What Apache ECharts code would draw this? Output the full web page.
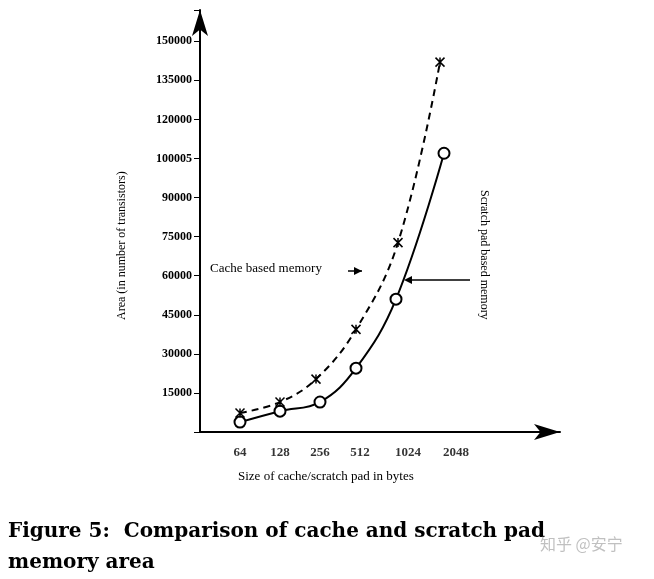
<!DOCTYPE html>
<html><head><meta charset="utf-8">
<script src="https://cdn.jsdelivr.net/npm/echarts@6/dist/echarts.min.js"></script>
<style>html,body{margin:0;background:#fff}#c{width:654px;height:579px}</style>
</head><body><div id="c"></div>
<script>
const categories = ['64', '128', '256', '512', '1024', '2048'];
const scratchX = [0, 1, 2, 2.9, 3.9, 5.1];
const scratchY = [3800, 8000, 11500, 24500, 51000, 107000];
const cacheX = [0, 1, 1.9, 2.9, 3.95, 5];
const cacheY = [7300, 11500, 20300, 39400, 72700, 142000];
const labelX = [0, 1, 2, 3, 4.2, 5.4];

const serif = 'Liberation Serif';
const chart = echarts.init(document.getElementById('c'));
const pair = (xs, ys) => xs.map((x, i) => [x, ys[i]]);
const cross = 'path://M0,0L10,10M10,0L0,10M5,0L5,10';

chart.setOption({
  animation: false,
  grid: { left: 200, right: 94, top: 10, bottom: 147 },
  xAxis: {
    type: 'value', min: -1, max: 8, interval: 1,
    axisLine: { lineStyle: { color: '#000', width: 2 }, symbol: ['none', 'arrow'], symbolSize: [12, 26] },
    axisTick: { show: false }, splitLine: { show: false },
    axisLabel: { show: false }
  },
  yAxis: {
    type: 'value', min: 0, max: 162000, interval: 15000,
    axisLine: { show: true, onZero: false, lineStyle: { color: '#000', width: 2 }, symbol: ['none', 'arrow'], symbolSize: [12, 26] },
    axisTick: { show: true, length: 6, lineStyle: { color: '#000' } },
    splitLine: { show: false },
    axisLabel: {
      color: '#000', fontFamily: serif, fontSize: 12, fontWeight: 'bold',
      formatter: v => (v === 0 || v > 150000) ? '' : (v === 105000 ? '100005' : String(v))
    }
  },
  series: [
    {
      type: 'line', smooth: 0.4, data: pair(scratchX, scratchY),
      lineStyle: { color: '#000', width: 2 },
      symbol: 'emptyCircle', symbolSize: 11,
      itemStyle: { color: '#000', borderColor: '#000', borderWidth: 2 }
    },
    {
      type: 'line', smooth: 0.4, data: pair(cacheX, cacheY),
      lineStyle: { color: '#000', width: 2, type: [7, 5] },
      symbol: cross, symbolSize: 9,
      itemStyle: { color: 'none', borderColor: '#000', borderWidth: 1.5 }
    },
    {
      type: 'scatter', data: labelX.map(x => [x, 0]), symbolSize: 0,
      label: { show: true, position: 'bottom', distance: 14, color: '#000', fontFamily: serif, fontSize: 13, fontWeight: 'bold',
        formatter: p => categories[p.dataIndex] }
    }
  ],
  graphic: [
    { type: 'text', left: 238, top: 470, style: { text: 'Size of cache/scratch pad in bytes', font: '13px "Liberation Serif"', fill: '#000' } },
    { type: 'text', x: 116, y: 320, rotation: Math.PI / 2, style: { text: 'Area (in number of transistors)', font: '12px "Liberation Serif"', fill: '#000' } },
    { type: 'text', left: 210, top: 262, style: { text: 'Cache based memory', font: '13px "Liberation Serif"', fill: '#000' } },
    { type: 'line', shape: { x1: 348, y1: 271, x2: 362, y2: 271 }, style: { stroke: '#000', lineWidth: 1.5 } },
    { type: 'polygon', shape: { points: [[354, 267], [362, 271], [354, 275]] }, style: { fill: '#000' } },
    { type: 'line', shape: { x1: 470, y1: 280, x2: 410, y2: 280 }, style: { stroke: '#000', lineWidth: 1.5 } },
    { type: 'polygon', shape: { points: [[412, 276], [404, 280], [412, 284]] }, style: { fill: '#000' } },
    { type: 'text', x: 490, y: 190, rotation: -Math.PI / 2, style: { text: 'Scratch pad based memory', font: '12px "Liberation Serif"', fill: '#000' } },
    { type: 'text', left: 8, top: 522, style: { text: 'Figure 5:  Comparison of cache and scratch pad', font: 'bold 20px "DejaVu Serif"', fill: '#000' } },
    { type: 'text', left: 8, top: 553, style: { text: 'memory area', font: 'bold 20px "DejaVu Serif"', fill: '#000' } },
    { type: 'text', left: 540, top: 536, style: { text: '知乎 @安宁', font: '16px "Noto Sans CJK SC"', fill: 'rgba(150,150,150,0.6)' } }
  ]
});
</script></body></html>
